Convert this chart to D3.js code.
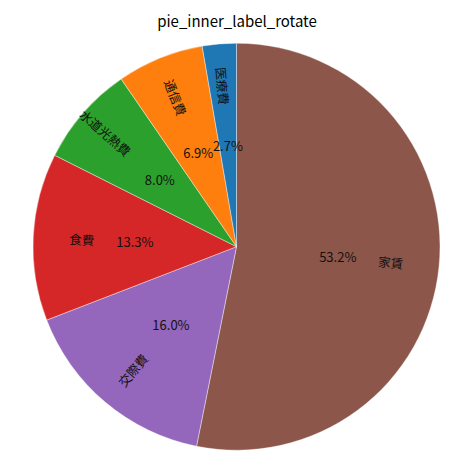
<!DOCTYPE html>
<html>
<head>
<meta charset="utf-8">
<script src="https://cdn.jsdelivr.net/npm/d3@7"></script>
<style>
  html, body { margin: 0; padding: 0; background: #fff; }
  text { font-family: "Noto Sans CJK JP", "Noto Sans", sans-serif; }
</style>
</head>
<body>
<div class="visHolder"></div>
<script>
// pie chart with labels rotated along the slice direction, placed inside
var categories = ["家賃", "交際費", "食費", "水道光熱費", "通信費", "医療費"];
var shares = [53.2, 16.0, 13.3, 8.0, 6.9, 2.7];
var colors = ["#8c564b", "#9467bd", "#d62728", "#2ca02c", "#ff7f0e", "#1f77b4"];

var width = 474,
  height = 474,
  cx = 236.5,
  cy = 246.7,
  radius = 203.5,
  labelDistance = 0.7,
  pctDistance = 0.5;

var svg = d3
  .select(".visHolder")
  .append("svg")
  .attr("width", width)
  .attr("height", height);

svg
  .append("text")
  .attr("x", width / 2)
  .attr("y", 27)
  .attr("text-anchor", "middle")
  .style("font-size", "15px")
  .style("fill", "#000")
  .text("pie_inner_label_rotate");

var rows = categories.map(function (c, i) {
  return { name: c, value: shares[i], color: colors[i] };
});

// d3 angles start at 12 o'clock and run clockwise, same as startangle=90, counterclock=False
var pie = d3
  .pie()
  .sort(null)
  .value(function (d) {
    return d.value;
  });

var arc = d3.arc().innerRadius(0).outerRadius(radius);

var g = svg.append("g").attr("transform", "translate(" + cx + "," + cy + ")");

var arcs = pie(rows);

g.selectAll("path")
  .data(arcs)
  .enter()
  .append("path")
  .attr("d", arc)
  .style("fill", (d) => d.data.color)
  .style("stroke", "#fff")
  .style("stroke-width", 0.4);

// percentage labels, horizontal
g.selectAll(".pct")
  .data(arcs)
  .enter()
  .append("text")
  .attr("class", "pct")
  .attr("x", function (d) {
    var a = (d.startAngle + d.endAngle) / 2;
    return Math.sin(a) * radius * pctDistance;
  })
  .attr("y", function (d) {
    var a = (d.startAngle + d.endAngle) / 2;
    return -Math.cos(a) * radius * pctDistance;
  })
  .attr("text-anchor", "middle")
  .attr("dominant-baseline", "central")
  .style("font-size", "13px")
  .style("fill", "#111")
  .text((d) => d.data.value.toFixed(1) + "%");

// category labels, rotated to point along the radius
g.selectAll(".lbl")
  .data(arcs)
  .enter()
  .append("text")
  .attr("class", "lbl")
  .attr("transform", function (d) {
    var a = (d.startAngle + d.endAngle) / 2;
    var x = Math.sin(a) * radius * labelDistance;
    var y = -Math.cos(a) * radius * labelDistance;
    var deg = (a * 180) / Math.PI;
    var rot = x >= 0 ? deg - 90 : deg + 90;
    return "translate(" + x + "," + y + ") rotate(" + rot + ")";
  })
  .attr("text-anchor", function (d) {
    var a = (d.startAngle + d.endAngle) / 2;
    return Math.sin(a) >= 0 ? "start" : "end";
  })
  .attr("dominant-baseline", "central")
  .style("font-size", "12.5px")
  .style("fill", "#111")
  .text((d) => d.data.name);
</script>
</body>
</html>
